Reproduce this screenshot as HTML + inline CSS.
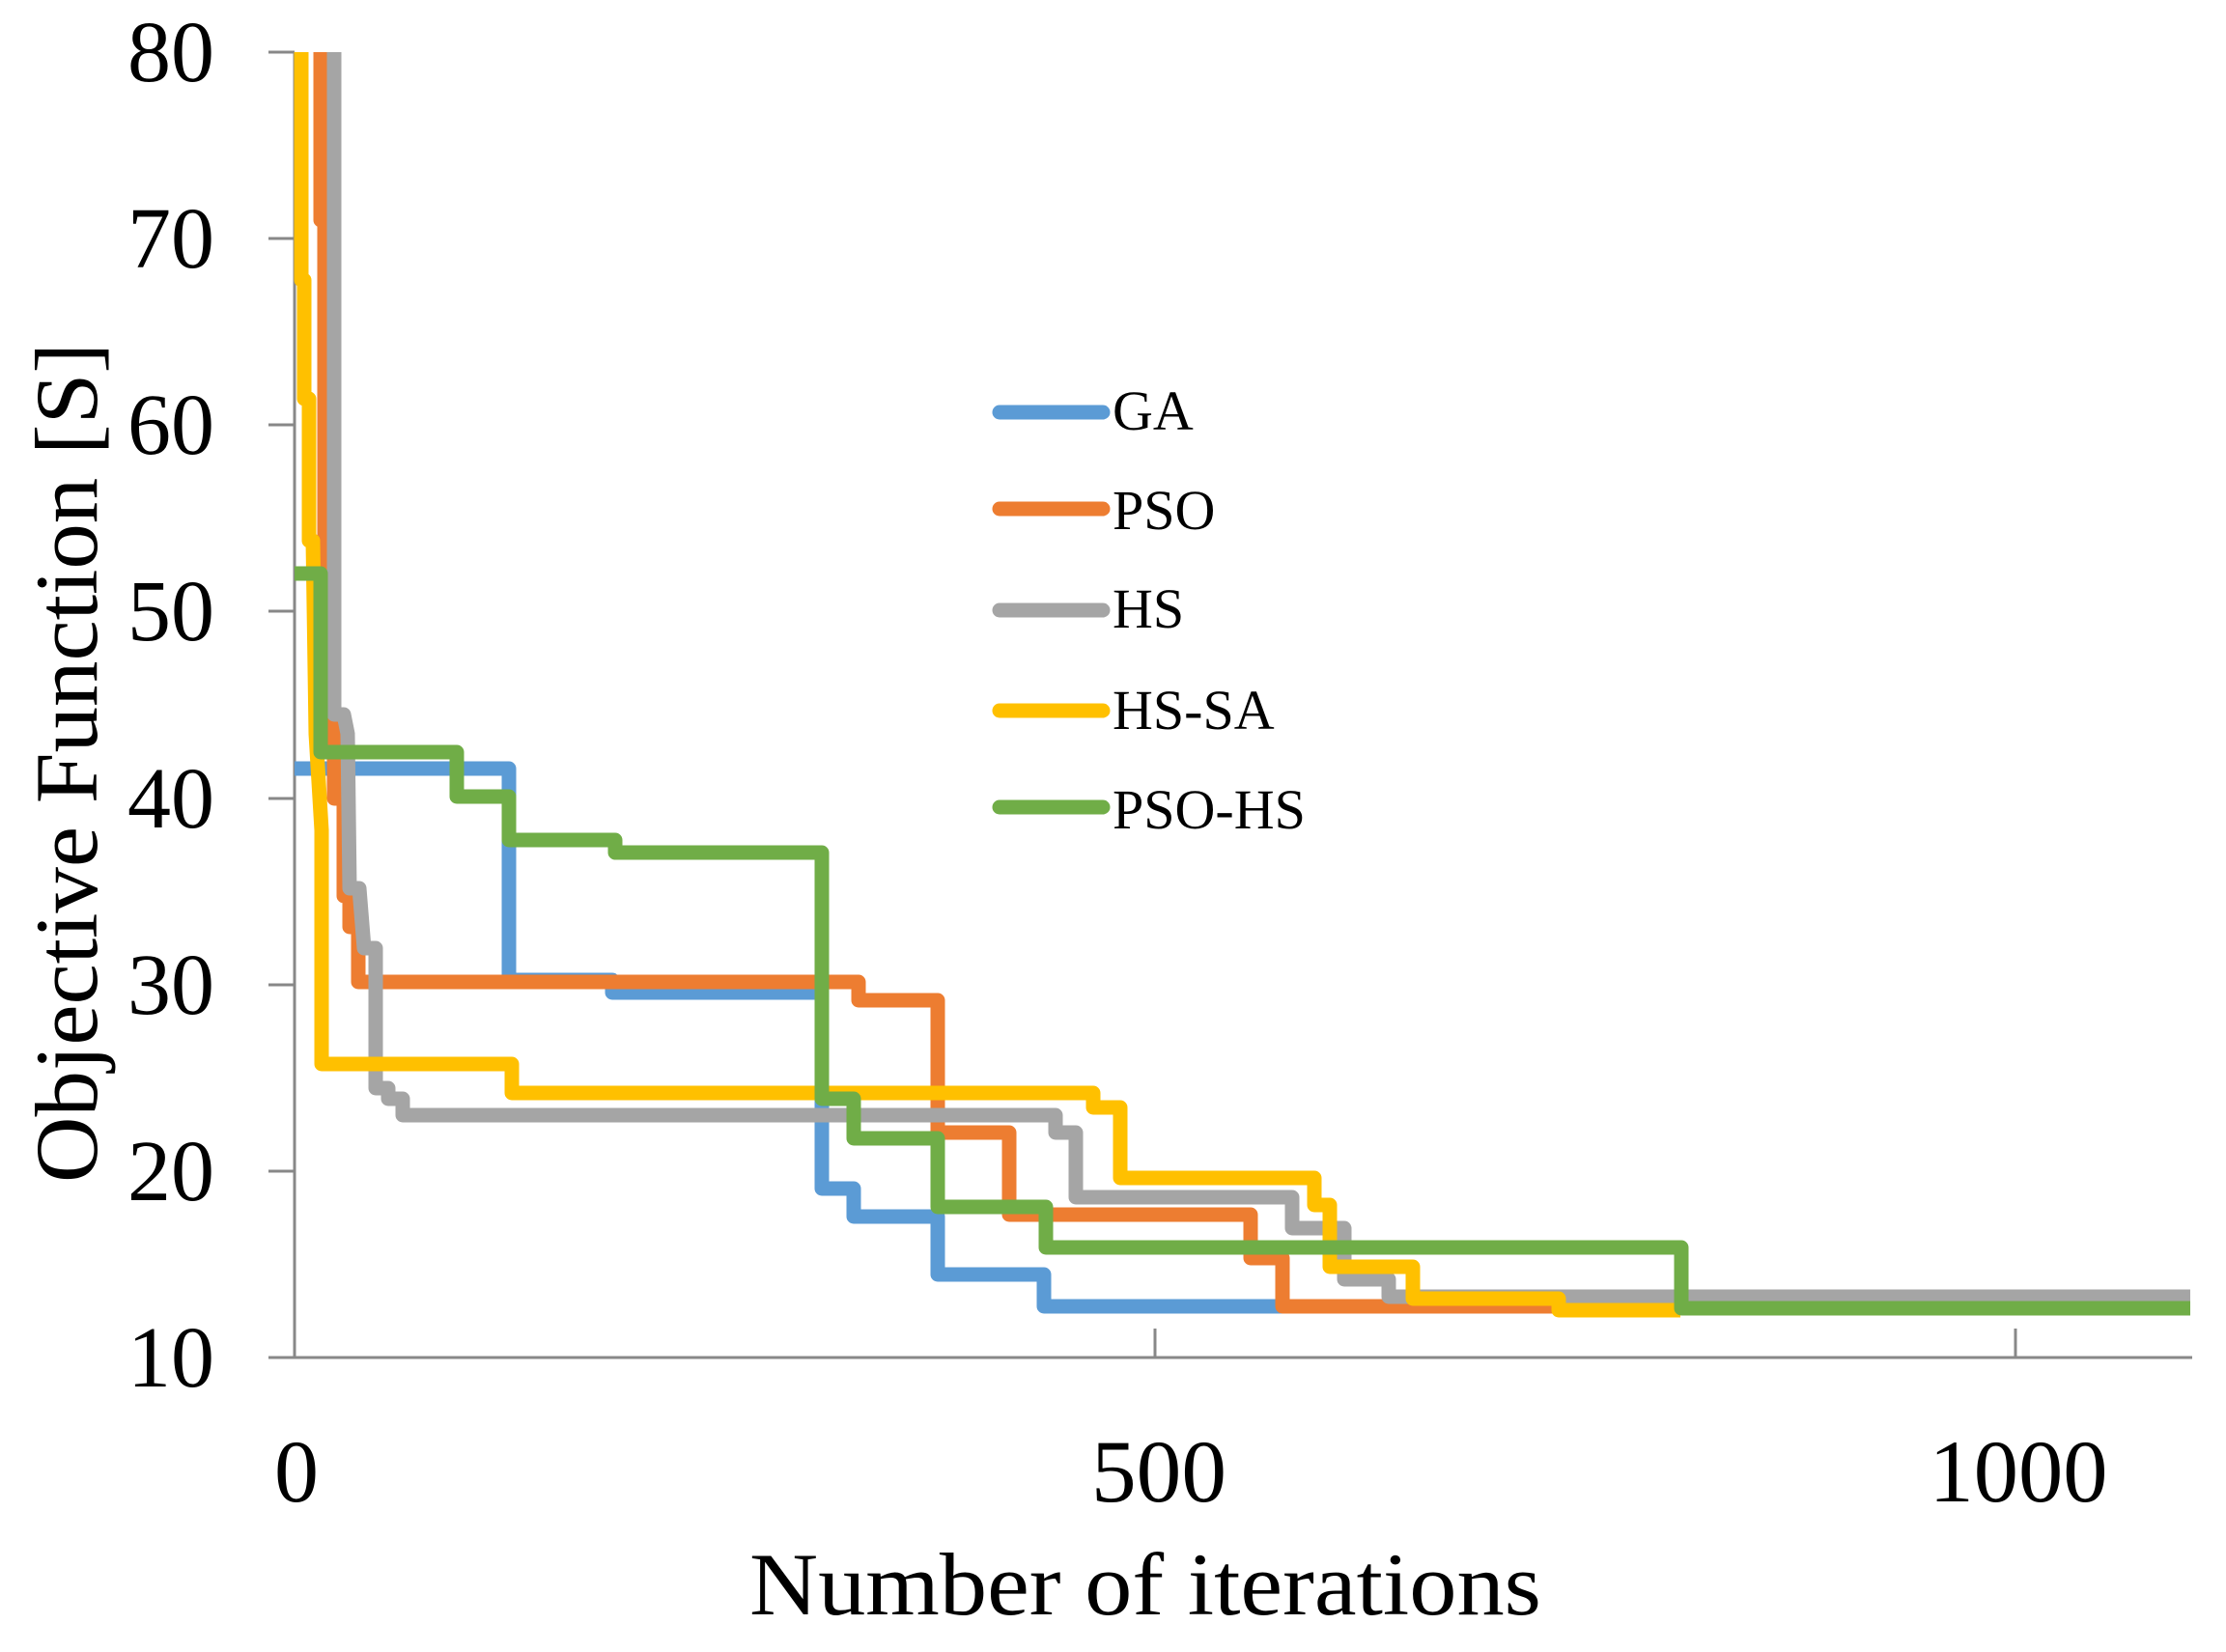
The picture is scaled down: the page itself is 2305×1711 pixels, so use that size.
<!DOCTYPE html>
<html><head><meta charset="utf-8"><style>
html,body{margin:0;padding:0;background:#fff;}
svg{display:block;}
text{font-family:"Liberation Serif",serif;fill:#000;}
</style></head><body>
<svg width="2305" height="1711" viewBox="0 0 2305 1711" xmlns="http://www.w3.org/2000/svg">
<g stroke="#888" stroke-width="3" fill="none">
<line x1="305" y1="54" x2="305" y2="1406"/>
<line x1="305" y1="1406" x2="2270" y2="1406"/>
<line x1="278" y1="54" x2="305" y2="54"/>
<line x1="278" y1="247" x2="305" y2="247"/>
<line x1="278" y1="440" x2="305" y2="440"/>
<line x1="278" y1="633" x2="305" y2="633"/>
<line x1="278" y1="827" x2="305" y2="827"/>
<line x1="278" y1="1020" x2="305" y2="1020"/>
<line x1="278" y1="1213" x2="305" y2="1213"/>
<line x1="278" y1="1406" x2="305" y2="1406"/>
<line x1="1196" y1="1376" x2="1196" y2="1406"/>
<line x1="2087" y1="1376" x2="2087" y2="1406"/>
</g>
<g font-size="90" text-anchor="end">
<text x="222" y="84">80</text>
<text x="222" y="277">70</text>
<text x="222" y="470">60</text>
<text x="222" y="663">50</text>
<text x="222" y="857">40</text>
<text x="222" y="1050">30</text>
<text x="222" y="1243">20</text>
<text x="222" y="1436">10</text>
</g>
<g font-size="92" text-anchor="middle">
<text x="307" y="1555">0</text>
<text x="1200" y="1555" textLength="140" lengthAdjust="spacingAndGlyphs">500</text>
<text x="2090" y="1555" textLength="185" lengthAdjust="spacingAndGlyphs">1000</text>
</g>
<text x="1186" y="1672" font-size="92" text-anchor="middle" textLength="820" lengthAdjust="spacingAndGlyphs">Number of iterations</text>
<text transform="translate(100,790) rotate(-90)" font-size="92" text-anchor="middle" textLength="870" lengthAdjust="spacingAndGlyphs">Objective Function [S]</text>

<g fill="none" stroke-width="15" stroke-linejoin="round">
<polyline stroke="#5B9BD5" points="305,796 527,796 527,1015 634,1015 634,1028 851,1028 851,1231 884,1231 884,1260 971,1260 971,1320 1081,1320 1081,1353 2268,1353"/>
<polyline stroke="#ED7D31" points="332,54 332,228 336,228 336,740 346,740 346,827 356,827 356,928 362,928 362,960 371,960 371,1017 889,1017 889,1036 971,1036 971,1173 1045,1173 1045,1258 1295,1258 1295,1303 1328,1303 1328,1353 2268,1353"/>
<polyline stroke="#A5A5A5" points="346,54 346,740 356,740 360,760 362,920 372,920 377,982 389,982 389,1127 402,1127 402,1138 417,1138 417,1155 1093,1155 1093,1173 1114,1173 1114,1240 1338,1240 1338,1272 1392,1272 1392,1325 1438,1325 1438,1343 2268,1343"/>
<polyline stroke="#FFC000" points="312,54 312,290 315,290 315,413 320,413 320,560 324,560 327,760 333,860 333,1102 530,1102 530,1132 1132,1132 1132,1147 1160,1147 1160,1220 1361,1220 1361,1248 1377,1248 1377,1312 1463,1312 1463,1345 1614,1345 1614,1357 1740,1357"/>
<polyline stroke="#70AD47" points="305,594 332,594 332,779 473,779 473,825 527,825 527,870 637,870 637,883 851,883 851,1138 884,1138 884,1179 971,1179 971,1250 1083,1250 1083,1292 1741,1292 1741,1355 2268,1355"/>
</g>

<g stroke-width="15" stroke-linecap="round">
<line x1="1035" y1="427" x2="1142" y2="427" stroke="#5B9BD5"/>
<line x1="1035" y1="527" x2="1142" y2="527" stroke="#ED7D31"/>
<line x1="1035" y1="632" x2="1142" y2="632" stroke="#A5A5A5"/>
<line x1="1035" y1="736" x2="1142" y2="736" stroke="#FFC000"/>
<line x1="1035" y1="836" x2="1142" y2="836" stroke="#70AD47"/>
</g>
<g font-size="58">
<text x="1152" y="445">GA</text>
<text x="1152" y="548">PSO</text>
<text x="1152" y="650">HS</text>
<text x="1152" y="755">HS-SA</text>
<text x="1152" y="858">PSO-HS</text>
</g>
</svg>
</body></html>
